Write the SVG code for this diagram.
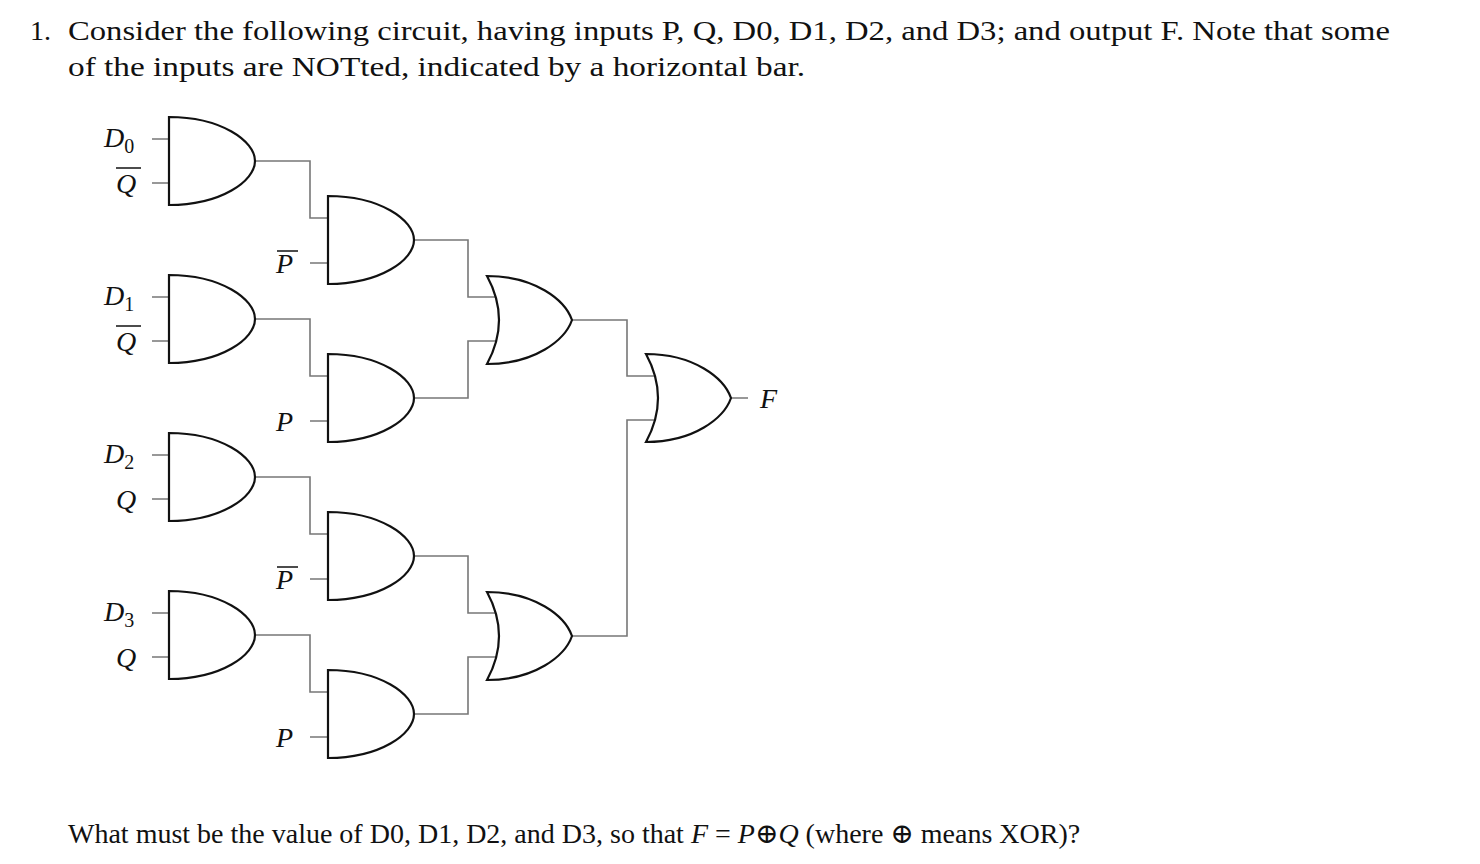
<svg xmlns="http://www.w3.org/2000/svg" width="1480" height="864" viewBox="0 0 1480 864">
<defs>
<style>
.t{font-family:"Liberation Serif","DejaVu Serif",serif;font-size:28px;fill:#111}
.m{font-family:"Liberation Serif","DejaVu Serif",serif;font-size:28px;font-style:italic;fill:#111}
.s{font-family:"Liberation Serif",serif;font-size:20px;fill:#111}
.g{fill:#fff;stroke:#111;stroke-width:2.2}
.w{fill:none;stroke:#777;stroke-width:1.6}
.b{stroke:#111;stroke-width:1.5}
</style>
<path id="and" d="M0,0 C52,0 86,24 86,44 C86,64 52,88 0,88 Z"/>
<path id="or" d="M0,0 C48,0 78,24 85,44 C78,64 48,88 0,88 Q24,44 0,0 Z"/>
</defs>
<rect width="1480" height="864" fill="#fff"/>
<text class="t" x="30" y="40">1.</text>
<text class="t" x="68" y="40" textLength="1322" lengthAdjust="spacingAndGlyphs">Consider the following circuit, having inputs P, Q, D0, D1, D2, and D3; and output F. Note that some</text>
<text class="t" x="68" y="76" textLength="737" lengthAdjust="spacingAndGlyphs">of the inputs are NOTted, indicated by a horizontal bar.</text>
<g id="connectors">
<path class="w" d="M152,139H169M152,183H169M152,297H169M152,341H169M152,455H169M152,499H169M152,613H169M152,657H169"/>
<path class="w" d="M310,263H328M310,421H328M310,579H328M310,737H328"/>
<path class="w" d="M255,161H310V218H330M255,319H310V376H330M255,477H310V534H330M255,635H310V692H330"/>
<path class="w" d="M413,240H468V297H500M413,398H468V341H500M413,556H468V613H500M413,714H468V657H500"/>
<path class="w" d="M572,320H627V376H659M572,636H627V420H659M731,398H748"/>
</g>
<g id="and1"><use href="#and" x="169" y="117" class="g"/></g>
<g id="and2"><use href="#and" x="169" y="275" class="g"/></g>
<g id="and3"><use href="#and" x="169" y="433" class="g"/></g>
<g id="and4"><use href="#and" x="169" y="591" class="g"/></g>
<g id="and5"><use href="#and" x="328" y="196" class="g"/></g>
<g id="and6"><use href="#and" x="328" y="354" class="g"/></g>
<g id="and7"><use href="#and" x="328" y="512" class="g"/></g>
<g id="and8"><use href="#and" x="328" y="670" class="g"/></g>
<g id="or1"><use href="#or" x="487" y="276" class="g"/></g>
<g id="or2"><use href="#or" x="487" y="592" class="g"/></g>
<g id="or3"><use href="#or" x="646" y="354" class="g"/></g>
<g id="labels">
<text class="m" x="104" y="147">D<tspan class="s" font-style="normal" dy="6">0</tspan></text>
<text class="m" x="104" y="305">D<tspan class="s" font-style="normal" dy="6">1</tspan></text>
<text class="m" x="104" y="463">D<tspan class="s" font-style="normal" dy="6">2</tspan></text>
<text class="m" x="104" y="621">D<tspan class="s" font-style="normal" dy="6">3</tspan></text>
<text class="m" x="116" y="193">Q</text><line class="b" x1="116" y1="168" x2="141" y2="168"/>
<text class="m" x="116" y="351">Q</text><line class="b" x1="116" y1="326" x2="141" y2="326"/>
<text class="m" x="116" y="509">Q</text>
<text class="m" x="116" y="667">Q</text>
<text class="m" x="276" y="273">P</text><line class="b" x1="277" y1="251" x2="298" y2="251"/>
<text class="m" x="276" y="431">P</text>
<text class="m" x="276" y="589">P</text><line class="b" x1="277" y1="567" x2="298" y2="567"/>
<text class="m" x="276" y="747">P</text>
<text class="m" x="760" y="408">F</text>
</g>
<text class="t" x="68" y="843">What must be the value of D0, D1, D2, and D3, so that <tspan font-style="italic">F</tspan> = <tspan font-style="italic">P</tspan>⊕<tspan font-style="italic">Q</tspan> (where ⊕ means XOR)?</text>
</svg>
